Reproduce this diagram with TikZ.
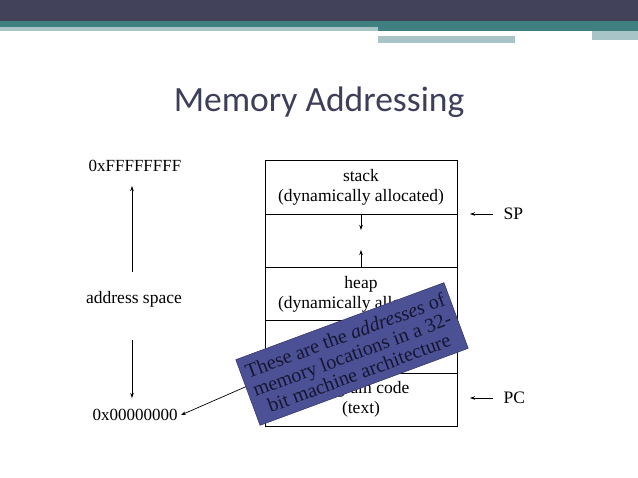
\documentclass[tikz,border=0pt]{standalone}
\usepackage{fontspec}
\usetikzlibrary{arrows.meta}
\setmainfont{Liberation Serif}
\newfontfamily\titlefont{Carlito}
\begin{document}
\begin{tikzpicture}[x=1pt,y=-1pt,
  lbl/.style={font=\fontsize{17.5}{20}\selectfont, align=center},
  arr/.style={-{Stealth[length=5pt,width=3.5pt]}, line width=0.7pt}]
\useasboundingbox (0,0) rectangle (638,478);
\fill[white] (0,0) rectangle (638,478);
% header
\fill[fill={rgb,255:red,66;green,67;blue,90}] (0,0) rectangle (638,21);
\fill[fill={rgb,255:red,63;green,127;blue,128}] (0,21) rectangle (638,27);
\fill[fill={rgb,255:red,168;green,196;blue,198}] (0,27) rectangle (378,31);
\fill[fill={rgb,255:red,63;green,127;blue,128}] (378,27) rectangle (638,31);
\fill[fill={rgb,255:red,168;green,196;blue,198}] (592,31) rectangle (638,40);
\fill[fill={rgb,255:red,168;green,196;blue,198}] (378,36) rectangle (515,43);
\node[font=\titlefont\fontsize{35.5}{40}\selectfont, text={rgb,255:red,61;green,63;blue,90}] (title) at (319,102) {Memory Addressing};
% memory table
\draw[line width=0.8pt] (265,160) rectangle (457,426);
\foreach \yy in {214,267,320,373} \draw[line width=0.8pt] (265,\yy) -- (457,\yy);
\node[lbl] (stack) at (361,187) {stack\\(dynamically allocated)};
\node[lbl] (heap) at (361,294) {heap\\(dynamically allocated)};
\node[lbl] (code) at (361,399) {program code\\(text)};
\coordinate (s1) at (361,214); \coordinate (s2) at (361,230);
\coordinate (h1) at (361,267); \coordinate (h2) at (361,250);
\draw[arr] (s1) -- (s2);
\draw[arr] (h1) -- (h2);
\node[lbl, anchor=west] (sp) at (500,214) {SP};
\node[lbl, anchor=west] (pc) at (500,398) {PC};
\coordinate (spa) at (493,214); \coordinate (pca) at (493,398);
\draw[arr] (spa) -- (470,214);
\draw[arr] (pca) -- (470,398);
% left side
\node[font=\fontsize{17}{20}\selectfont] (top) at (135,166) {0xFFFFFFFF};
\node[font=\fontsize{17}{20}\selectfont] (bot) at (135,415) {0x00000000};
\node[lbl] (as) at (134,299) {address space};
\coordinate (u1) at (132,272); \coordinate (d1) at (132,340);
\draw[arr] (u1) -- (132,186);
\draw[arr] (d1) -- (132,398);
% note box
\coordinate (nstart) at (252,384);
\draw[arr] (nstart) -- (bot.east);
\node[rotate=20.3, fill={rgb,255:red,76;green,80;blue,148}, draw={rgb,255:red,50;green,52;blue,100}, line width=0.5pt,
  minimum width=222pt, minimum height=70pt, inner sep=1pt, align=center,
  text={rgb,255:red,20;green,22;blue,50}, font=\fontsize{20}{20}\selectfont] (note) at (352,354)
  {These are the \textit{addresses} of\\memory locations in a 32-\\bit machine architecture};
\end{tikzpicture}
\end{document}
